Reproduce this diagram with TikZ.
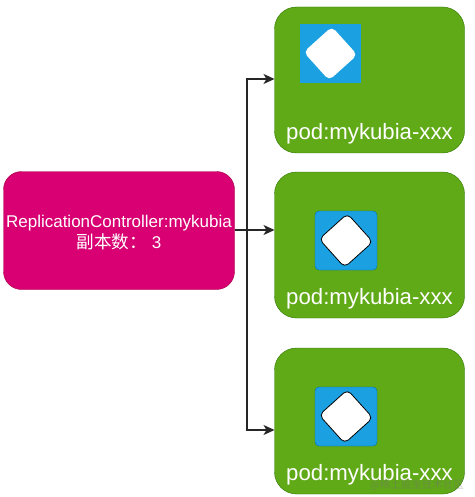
\documentclass[tikz,border=0pt]{standalone}
\usepackage{fontspec}
\setmainfont{Liberation Sans}
\newfontfamily\cjk{Noto Sans CJK SC}
\definecolor{podGreen}{HTML}{60A917}
\definecolor{podEdge}{HTML}{2D7600}
\definecolor{rcPink}{HTML}{D80073}
\definecolor{rcEdge}{HTML}{A50040}
\definecolor{iconBlue}{HTML}{1BA1E2}
\definecolor{iconEdge}{HTML}{006EAF}
\usetikzlibrary{arrows.meta, positioning}
\tikzset{
  rcbox/.style={draw=rcEdge, fill=rcPink, rounded corners=18pt, minimum width=231pt, minimum height=118pt, inner sep=0pt},
  podbox/.style={draw=podEdge, fill=podGreen, rounded corners=22pt, minimum width=190pt, minimum height=146pt, inner sep=0pt},
  podtext/.style={text=white, font=\fontsize{22.2}{26}\selectfont, inner sep=0pt},
  iconplain/.style={fill=iconBlue, minimum width=61pt, minimum height=59pt, inner sep=0pt},
  iconbox/.style={draw=iconEdge, fill=iconBlue, rounded corners=4pt, minimum width=62pt, minimum height=59pt, inner sep=0pt},
  diamondbox/.style={fill=white, rounded corners=5pt, rotate=42, minimum size=38pt, inner sep=0pt},
  link/.style={draw=black!85, line width=1.3pt, -{Stealth[length=11pt,width=10pt,inset=3pt]}}
}
\begin{document}
\begin{tikzpicture}[x=1pt, y=-1pt]
  \useasboundingbox[fill=white] (0,0) rectangle (474,497);
  % controller on the left
  \node[rcbox] (rc) at (119,230.5) {};
  \node[align=center, text=white, font=\fontsize{17}{21}\selectfont, inner sep=0pt] (rcname) at (119,233)
       {ReplicationController:mykubia\\{\cjk\fontsize{17.6}{21}\selectfont 副本数：} 3};
  % the three pods
  \node[podbox] (pod1) at (369.5,80) {};
  \node[podbox] (pod2) at (369.5,245) {};
  \node[podbox] (pod3) at (369.5,421) {};
  \foreach \p in {1,2,3} {
    \node[podtext, above=9pt of pod\p.south] (podname\p) {pod:mykubia-xxx};
  }
  \node[iconplain] (icon1) at (330.5,53.5) {};
  \node[iconbox] (icon2) at (346,240.5) {};
  \node[iconbox] (icon3) at (346,416.5) {};
  \node[diamondbox] (gem1) at (icon1) {};
  \node[diamondbox, draw=black, line width=0.8pt] (gem2) at (icon2) {};
  \node[diamondbox, draw=black, line width=0.8pt] (gem3) at (icon3) {};
  % arrows, all from one trunk
  \coordinate (trunk) at (247,230);
  \coordinate (in1) at (274.5,79);
  \coordinate (in2) at (274.5,230);
  \coordinate (in3) at (274.5,430);
  \draw[link] (rc.east |- trunk) -- (in2);
  \draw[link] (trunk) |- (in1);
  \draw[link] (trunk) |- (in3);
  \node[text=black!55, opacity=0.45, font=\cjk\fontsize{10.5}{12}\selectfont, inner sep=0pt] (mark) at (417,485) {@稀土掘金技术社区};
\end{tikzpicture}
\end{document}
